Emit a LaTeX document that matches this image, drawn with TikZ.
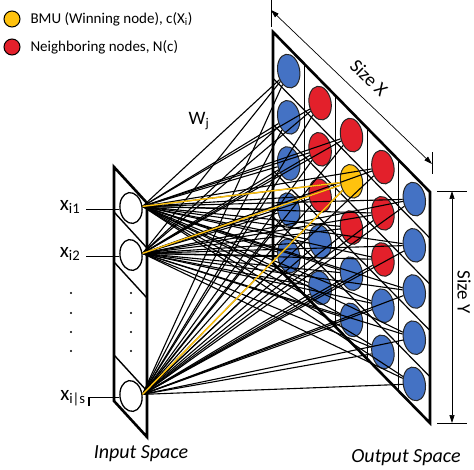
\documentclass[tikz,border=0pt]{standalone}
\usepackage{fontspec}
\setmainfont{Carlito}
\usetikzlibrary{arrows.meta,shapes.geometric}
\definecolor{somblue}{HTML}{4472C4}
\definecolor{somred}{HTML}{E3202B}
\definecolor{somyellow}{HTML}{FFC20E}
\tikzset{
    unit/.style={ellipse, draw=black!85, line width=1pt, minimum width=22pt, minimum height=34pt, inner sep=0pt, rotate=10},
    inunit/.style={ellipse, draw, line width=1.3pt, fill=white, minimum width=22pt, minimum height=31pt, inner sep=0pt, rotate=8},
    frame/.style={line width=2.6pt},
    link/.style={line width=1.1pt},
    bmulink/.style={line width=1.4pt, somyellow},
    dimline/.style={line width=0.7pt, {Triangle[length=8pt, width=5pt]}-{Triangle[length=8pt, width=5pt]}},
    dimtick/.style={line width=0.7pt},
    lbl/.style={font=\fontsize{21}{24}\selectfont, inner sep=0pt},
    caption/.style={font=\fontsize{20}{24}\selectfont\itshape},
    legtext/.style={anchor=west, font=\fontsize{15}{18}\selectfont},
}

\begin{document}
\begin{tikzpicture}[x=1pt, y=-1pt]
    \useasboundingbox (0, 0) rectangle (474, 470);

    % legend
    \node[circle, draw, line width=1pt, fill=somyellow, minimum size=16pt, inner sep=0pt] (legBmu) at(12, 19) {};
    \node[circle, draw, line width=1pt, fill=somred, minimum size=16pt, inner sep=0pt] (legNb) at(12, 47) {};
    \node[legtext] (legBmuTxt) at(27, 19) {BMU (Winning node), c(X\textsubscript{i})};
    \node[legtext] (legNbTxt) at(27, 47) {Neighboring nodes, N(c)};

    % input space
    \draw[frame] (114, 167) -- (147, 203) -- (147, 437) -- (114, 401) -- cycle;
    \draw[line width=1.4pt] (114, 212) -- (147, 248);
    \draw[line width=1.4pt] (114, 262) -- (147, 298);
    \draw[line width=1.4pt] (114, 355) -- (147, 391);
    \node[inunit] (inA) at(131, 208) {};
    \node[inunit] (inB) at(131, 255) {};
    \node[inunit] (inC) at(131, 396) {};
    \foreach \y in {293, 313, 332, 351} {
        \fill (131, \y) circle (1.2);
        \fill (71, \y) circle (1.2);
    }
    \node[lbl] (lblA) at(70, 207) {x\textsubscript{i1}};
    \node[lbl] (lblB) at(70, 254) {x\textsubscript{i2}};
    \node[lbl] (lblC) at(73, 398) {x\textsubscript{i|s}};
    \draw[line width=1.3pt] ([xshift=6pt]lblA.east |- inA.west) -- (inA.west);
    \draw[line width=1.3pt] ([xshift=6pt]lblB.east |- inB.west) -- (inB.west);
    \draw[line width=1.3pt] ([xshift=3pt]lblC.south east) |- (inC.west);

    % output space
    \foreach \k in {1,...,4} {
        \draw[line width=0.8pt] (273+31.4*\k, 32+32*\k) -- ++(0, 231);
        \draw[line width=1.2pt] (273, 32+46.2*\k) -- (430, 192+46.2*\k);
    }
    \draw[frame] (273, 32) -- (430, 192) -- (430, 423) -- (273, 263) -- cycle;
    \foreach \i in {0,...,4}
        \foreach \j in {0,...,4} {
            \pgfmathtruncatemacro\nb{(\i>=1)*(\i<=3)*(\j<=2)}
            \pgfmathtruncatemacro\bmu{(\i==2)*(\j==1)}
            \ifnum\bmu=1 \def\fc{somyellow}\else\ifnum\nb=1 \def\fc{somred}\else\def\fc{somblue}\fi\fi
            \node[unit, fill=\fc] (o\i\j) at(288.7+31.4*\i, 71.1+32*\i+46.2*\j) {};
        }

    % weights
    \foreach \a in {inA, inB, inC}
        \foreach \i in {0,...,4}
            \foreach \j in {0,...,4}
                \draw[link] (\a.east) -- (o\i\j);
    \foreach \a in {inA, inB, inC}
        \draw[bmulink] (\a.east) -- (o21);
    \node[font=\fontsize{19}{22}\selectfont] (wj) at(199, 121) {W\textsubscript{j}};

    % dimensions
    \coordinate (xTop) at(271, 0);
    \coordinate (xA) at(271, 10);
    \coordinate (xB) at(432, 164);
    \coordinate (xBot) at(432, 174);
    \draw[dimtick] (xTop) -- ++(0, 27);
    \draw[dimtick] (xBot) -- ++(0, -22);
    \draw[dimline] (xA) -- (xB);
    \node[rotate=-44, font=\fontsize{19}{22}\selectfont] (sizeX) at(369, 78) {Size X};
    \coordinate (yA) at(452, 191);
    \coordinate (yB) at(452, 423);
    \draw[dimtick] (437, 191) -- (467, 191);
    \draw[dimtick] (437, 423) -- (467, 423);
    \draw[dimline] (yA) -- (yB);
    \node[rotate=-90, font=\fontsize{19}{22}\selectfont] (sizeY) at(464, 292) {Size Y};

    \node[caption] (inCap) at(141, 454) {Input Space};
    \node[caption] (outCap) at(406, 458) {Output Space};
\end{tikzpicture}
\end{document}
